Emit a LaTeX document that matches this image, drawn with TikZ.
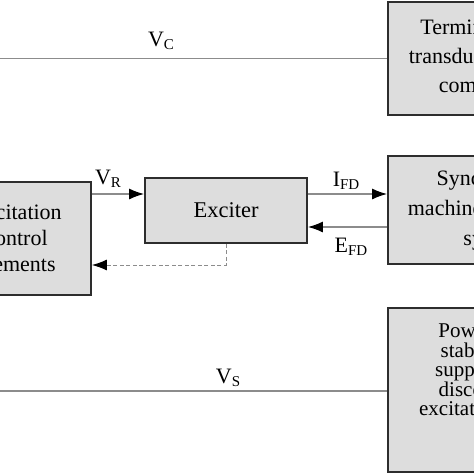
\documentclass[tikz,border=0pt]{standalone}
\usepackage{fontspec}
\setmainfont{Liberation Serif}
\usetikzlibrary{arrows.meta}
\definecolor{boxfill}{RGB}{221,221,221}
\definecolor{boxline}{RGB}{45,45,45}
\definecolor{wire}{RGB}{140,140,140}
\newcommand\lsub[1]{\raisebox{-3pt}{\fontsize{15}{15}\selectfont #1}}
\tikzset{
  blk/.style={draw=boxline, line width=1.8pt, fill=boxfill, rectangle, inner sep=0pt, align=center},
  wireline/.style={draw=wire, line width=1.3pt},
  sig/.style={wireline, -{Latex[color=black,length=15pt,width=11pt]}},
  dsig/.style={draw=wire, line width=1pt, dash pattern=on 4pt off 2.5pt, -{Latex[color=black,length=15pt,width=11pt]}},
  lbl/.style={font=\fontsize{22}{24}\selectfont, inner sep=0pt}
}
\begin{document}
\begin{tikzpicture}[x=1pt,y=-1pt]
\useasboundingbox (0,0) rectangle (474,474);
\clip (0,0) rectangle (474,474);
\fill[white] (0,0) rectangle (474,474);
% boxes
\node[blk, minimum width=214pt, minimum height=113pt, font=\fontsize{22}{29}\selectfont] (term) at (495,58.5) {Terminal voltage\\transducer and load\\compensator};
\node[blk, minimum width=212pt, minimum height=108pt, font=\fontsize{22}{30}\selectfont] (sync) at (494,210) {Synchronous\\machine and power\\system};
\node[blk, minimum width=218pt, minimum height=164pt] (pss) at (497,390) {};
\node[align=center, inner sep=0pt, font=\fontsize{21}{19}\selectfont] (psst) at (497,370) {Power system\\stabilizer and\\supplementary\\discontinuous\\excitation controls};
\node[blk, minimum width=149pt, minimum height=113pt, font=\fontsize{22}{26}\selectfont] (ctrl) at (16.5,238.5) {Excitation\\control\\elements};
\node[blk, minimum width=162pt, minimum height=65pt, font=\fontsize{22.5}{26}\selectfont] (exc) at (226,210.5) {Exciter};
% free ends
\coordinate (vcstart) at (0,58.5);
\coordinate (vsstart) at (0,391);
% connectors
\draw[wireline] (vcstart) -- (term.west |- vcstart);
\draw[wireline] (vsstart) -- (pss.west |- vsstart);
\draw[sig] (ctrl.east |- 0,194) -- (exc.west |- 0,194);
\draw[sig] (exc.east |- 0,194) -- (sync.west |- 0,194);
\draw[sig] (sync.west |- 0,227) -- (exc.east |- 0,227);
\draw[dsig] (exc.south) -- (exc.south |- 0,265) -- (ctrl.east |- 0,265);
% labels
\node[lbl] (vc) at (161,41) {V\lsub{C}};
\node[lbl] (vr) at (108,179) {V\lsub{R}};
\node[lbl] (ifd) at (346,181) {I\lsub{FD}};
\node[lbl] (efd) at (351,247) {E\lsub{FD}};
\node[lbl] (vs) at (228,378) {V\lsub{S}};
\end{tikzpicture}
\end{document}
